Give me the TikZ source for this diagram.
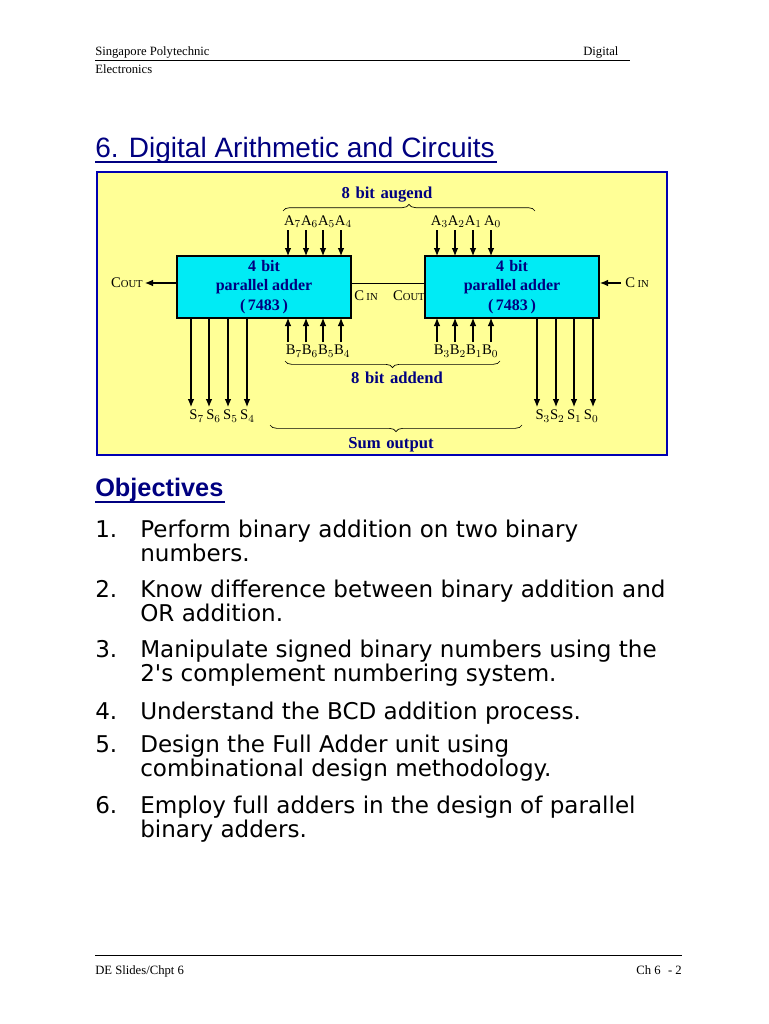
\documentclass[tikz,border=0pt]{standalone}
\usepackage{fontspec}
\setmainfont{Liberation Serif}
\newfontfamily\verd{DejaVu Sans}
\newfontfamily\arial{Liberation Sans}
\usetikzlibrary{decorations.pathreplacing,arrows.meta}
\definecolor{navy}{RGB}{0,0,128}
\definecolor{pyel}{RGB}{255,255,150}
\definecolor{pcyan}{RGB}{0,235,245}
\begin{document}
\begin{tikzpicture}[x=0.75pt,y=-0.75pt,
  adder/.style={draw=black,line width=1.6pt,fill=pcyan,minimum width=174*0.75pt,minimum height=62*0.75pt,inner sep=0pt,font=\bfseries\fontsize{12}{14.5}\selectfont,text=navy,align=center},
  lbl/.style={font=\fontsize{11}{12}\selectfont,inner sep=0pt},
  bt/.style={font=\bfseries\fontsize{12.5}{14}\selectfont,text=navy,inner sep=0pt},
  sig/.style={-{Latex[length=6pt,width=5pt]},line width=0.8pt},
  br/.style={decorate,decoration={brace,amplitude=5pt},line width=0.5pt},
  txt/.style={font=\verd\fontsize{17.3}{20}\selectfont,anchor=base west,inner sep=0pt},
  hd/.style={font=\fontsize{9.5}{11}\selectfont,anchor=base west,inner sep=0pt}]
\useasboundingbox (0,0) rectangle (768,1024);
% header
\node[hd] (h1) at (95,56) {Singapore Polytechnic};
\node[hd] (h2) at (583,56) {Digital};
\node[hd] (h3) at (95,74) {Electronics};
\draw[line width=0.4pt] (95,60) -- (630,60);
% title
\node[anchor=west,inner sep=0pt,font=\arial\fontsize{21}{24}\selectfont,text=navy] (title) at (95,150) {6. Digital Arithmetic and Circuits};
\draw[navy,line width=0.8pt] (95,162) -- (497,162);
% diagram
\draw[draw=blue!70!black,line width=1pt,fill=pyel] (97,172) rectangle (667,455);
\node[adder] (L) at (264,287) {4\,\,bit\\parallel adder\\(\,7483\,)};
\node[adder] (R) at (512,287) {4\,\,bit\\parallel adder\\(\,7483\,)};
\node[bt] (aug) at (387,195) {8\,\,bit\,\,augend};
\draw[br] (283,211) -- (535,211);
\node[bt] (add) at (397,378) {8\,\,bit\,\,addend};
\draw[br] (285,361) -- (500,361) [decoration={mirror}];
\node[bt] (sum) at (391,445) {Sum\,\,output};
\draw[br] (270,425) -- (522,425) [decoration={mirror}];
% A inputs
\node[lbl,anchor=south] (al) at (318,228) {A$_7$A$_6$A$_5$A$_4$};
\node[lbl,anchor=south] (ar) at (466,228) {A$_3$A$_2$A$_1$\,A$_0$};
\foreach \x in {288,306,323,341,437,455,473,491}{\coordinate (t\x) at (\x,230); \draw[sig] (t\x) -- (\x,256);}
% B inputs
\node[lbl,anchor=north] (bl) at (318,345) {B$_7$B$_6$B$_5$B$_4$};
\node[lbl,anchor=north] (brr) at (466,345) {B$_3$B$_2$B$_1$B$_0$};
\foreach \x in {288,306,323,341,437,455,473,491}{\coordinate (b\x) at (\x,342); \draw[sig] (b\x) -- (\x,318);}
% sums
\foreach \x in {191,209,228,247,537,556,574,593}{\coordinate (s\x) at (\x,407); \draw[sig] (\x,318) -- (s\x);}
\node[lbl,anchor=north] (sl) at (222,410) {S$_7$\,S$_6$\,S$_5$\,S$_4$};
\node[lbl,anchor=north] (sr) at (567,410) {S$_3$S$_2$\,S$_1$\,S$_0$};
% carries
\coordinate (co) at (145,283);
\draw[sig] (L.west |- co) -- (co);
\node[lbl,anchor=east] (cout) at (143,283) {C{\footnotesize OUT}};
\draw[line width=0.7pt] (L.east |- 0,283) -- (R.west |- 0,283);
\node[lbl,anchor=west] (cin1) at (354,296) {C\,{\footnotesize IN}};
\node[lbl,anchor=east] (cout2) at (425,296) {C{\footnotesize OUT}};
\coordinate (ci) at (621,283);
\draw[sig] (ci) -- (R.east |- ci);
\node[lbl,anchor=west] (cin2) at (625,283) {C\,{\footnotesize IN}};
% objectives
\node[anchor=west,inner sep=0pt,font=\arial\bfseries\fontsize{19}{22}\selectfont,text=navy] (obj) at (95,490) {Objectives};
\draw[navy,line width=1.2pt] (95,502) -- (225,502);
\foreach \n/\y/\t in {1/537/Perform binary addition on two binary, 2/597/Know difference between binary addition and, 3/657/Manipulate signed binary numbers using the, 4/719/Understand the BCD addition process., 5/752/Design the Full Adder unit using, 6/813/Employ full adders in the design of parallel}{
 \node[txt] (n\n) at (95,\y) {\n.};
 \node[txt] (t\n) at (140,\y) {\t};}
\node[txt] (c1) at (140,561) {numbers.};
\node[txt] (c2) at (140,621) {OR addition.};
\node[txt] (c3) at (140,681) {2's complement numbering system.};
\node[txt] (c5) at (140,776) {combinational design methodology.};
\node[txt] (c6) at (140,837) {binary adders.};
% footer
\draw[line width=0.4pt] (95,955) -- (682,955);
\node[hd] (f1) at (95,974) {DE Slides/Chpt 6};
\node[hd,anchor=base east] (f2) at (682,974) {Ch 6\,\, - 2};
\end{tikzpicture}
\end{document}
